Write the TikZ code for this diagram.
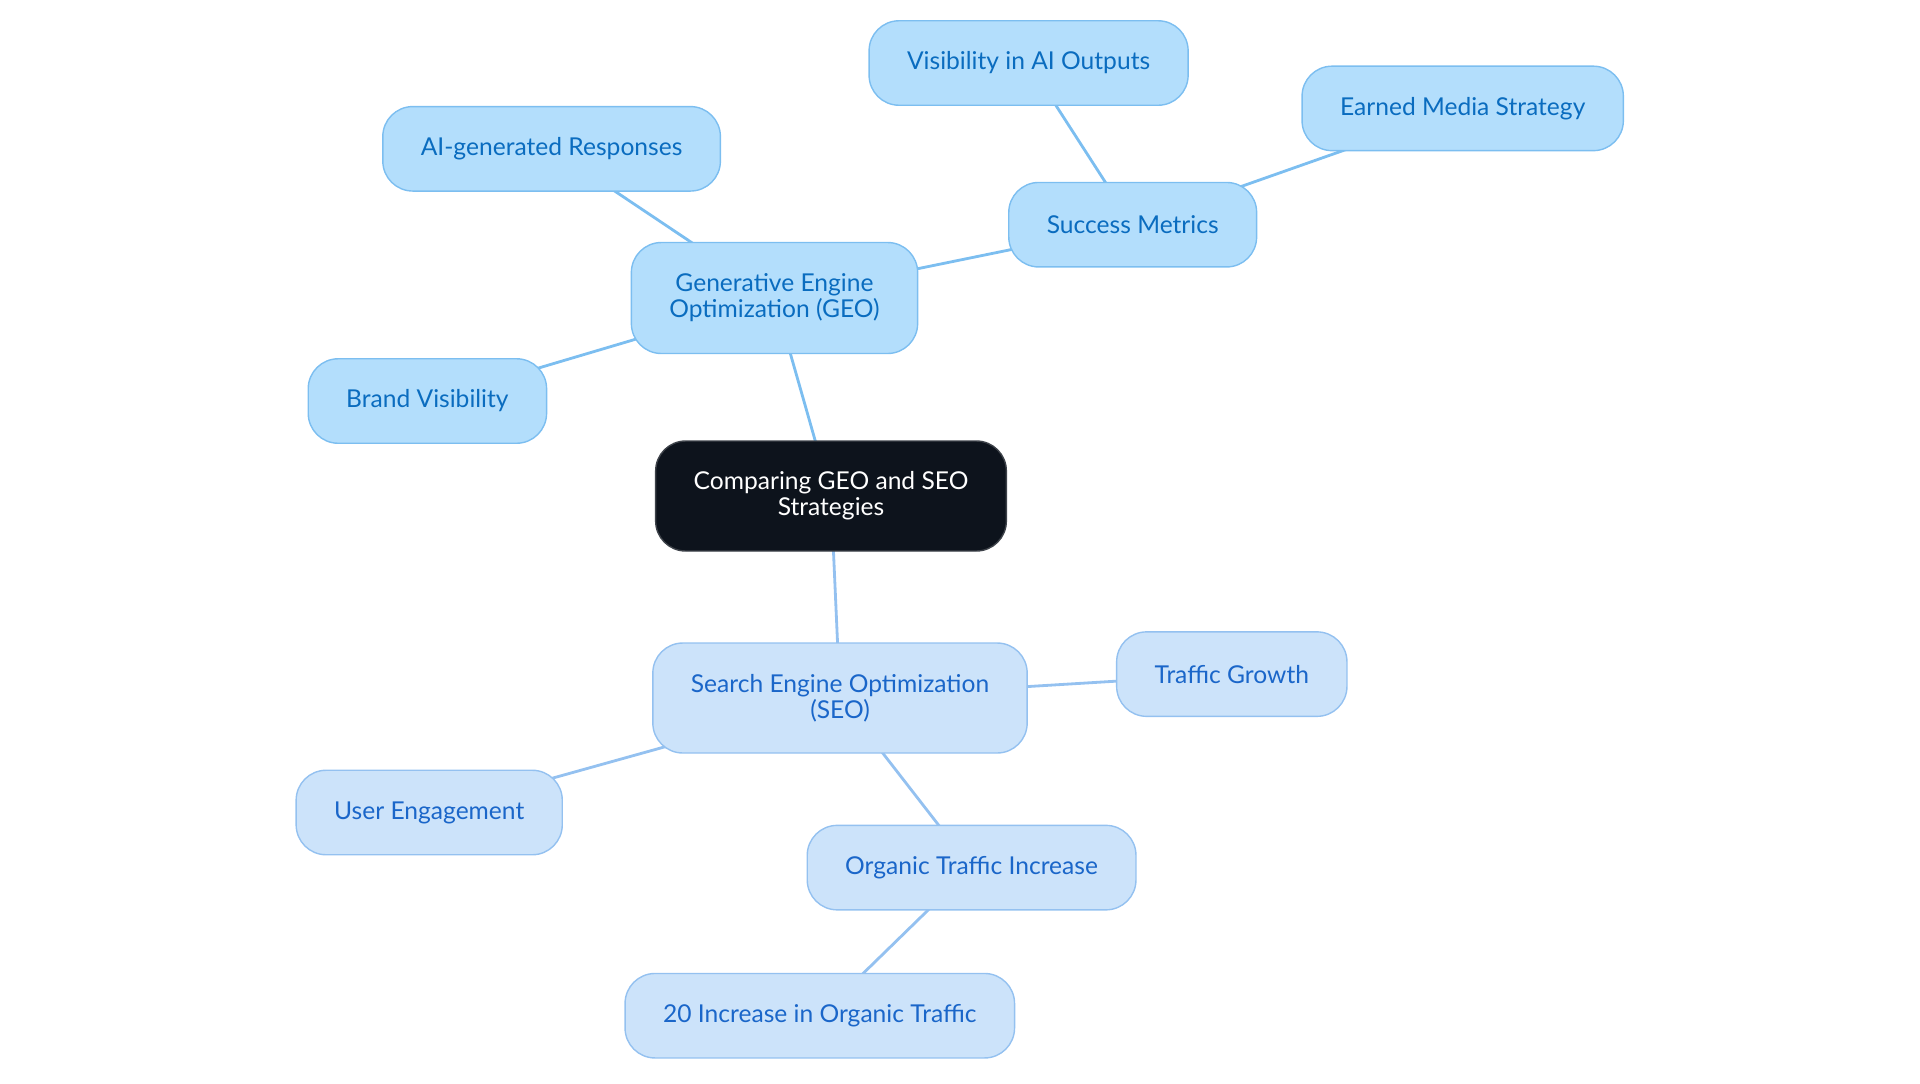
\documentclass[tikz,border=0pt]{standalone}
\usepackage{fontspec}
\setmainfont{Lato}
\usepackage{tikz}
\usetikzlibrary{calc,positioning,backgrounds}

\definecolor{geofill}{HTML}{B3DEFC}
\definecolor{geodraw}{HTML}{7CBEF0}
\definecolor{geotext}{HTML}{0A6CBF}
\definecolor{seofill}{HTML}{CCE3FA}
\definecolor{seodraw}{HTML}{94C1F0}
\definecolor{seotext}{HTML}{1A66C9}
\definecolor{rootfill}{HTML}{0D131C}

\begin{document}
\begin{tikzpicture}[x=0.02cm,y=-0.02cm]

\tikzset{basenode/.style={rectangle,rounded corners=0.6cm,align=center,inner xsep=0.76cm,
	minimum height=1.69cm,line width=0.8pt,font=\fontsize{14}{14.8}\selectfont},
rootnode/.style={basenode,fill=rootfill,draw=rootfill!80!white,text=white,minimum height=2.2cm},
geonode/.style={basenode,fill=geofill,draw=geodraw,text=geotext},
seonode/.style={basenode,fill=seofill,draw=seodraw,text=seotext},
geoline/.style={draw=geodraw,line width=1.6pt},
seoline/.style={draw=seodraw,line width=1.6pt}}

\useasboundingbox (0,0) rectangle (1920,1083);

% Root
\node (root) [rootnode] at (831,496) {Comparing GEO and SEO\\Strategies};

% GEO branch
\node (geo) [geonode,minimum height=2.22cm] at (774.5,298) {Generative Engine\\Optimization (GEO)};
\node (aiResp) [geonode] at (551.6,148.8) {AI-generated Responses};
\node (brandVis) [geonode] at (427.4,401) {Brand Visibility};
\node (metrics) [geonode] at (1132.7,224.7) {Success Metrics};
\node (aiOut) [geonode] at (1028.6,63) {Visibility in AI Outputs};
\node (earned) [geonode] at (1462.7,108.4) {Earned Media Strategy};

% SEO branch
\node (seo) [seonode,minimum height=2.2cm] at (840,698) {Search Engine Optimization\\(SEO)};
\node (traffic) [seonode] at (1231.8,674.1) {Traffic Growth};
\node (userEng) [seonode] at (429.2,812.5) {User Engagement};
\node (organic) [seonode] at (971.6,867.6) {Organic Traffic Increase};
\node (twenty) [seonode] at (819.8,1015.7) {20 Increase in Organic Traffic};

%% Edges (centre to centre, under the nodes)
\begin{scope}[on background layer]
\foreach \child/\parent in {geo/root, aiResp/geo, brandVis/geo, metrics/geo, aiOut/metrics, earned/metrics}
	\draw[geoline] (\child.center) -- (\parent.center);
\foreach \child/\parent in {seo/root, traffic/seo, userEng/seo, organic/seo, twenty/organic}
	\draw[seoline] (\child.center) -- (\parent.center);
\end{scope}
\end{tikzpicture}
\end{document}
